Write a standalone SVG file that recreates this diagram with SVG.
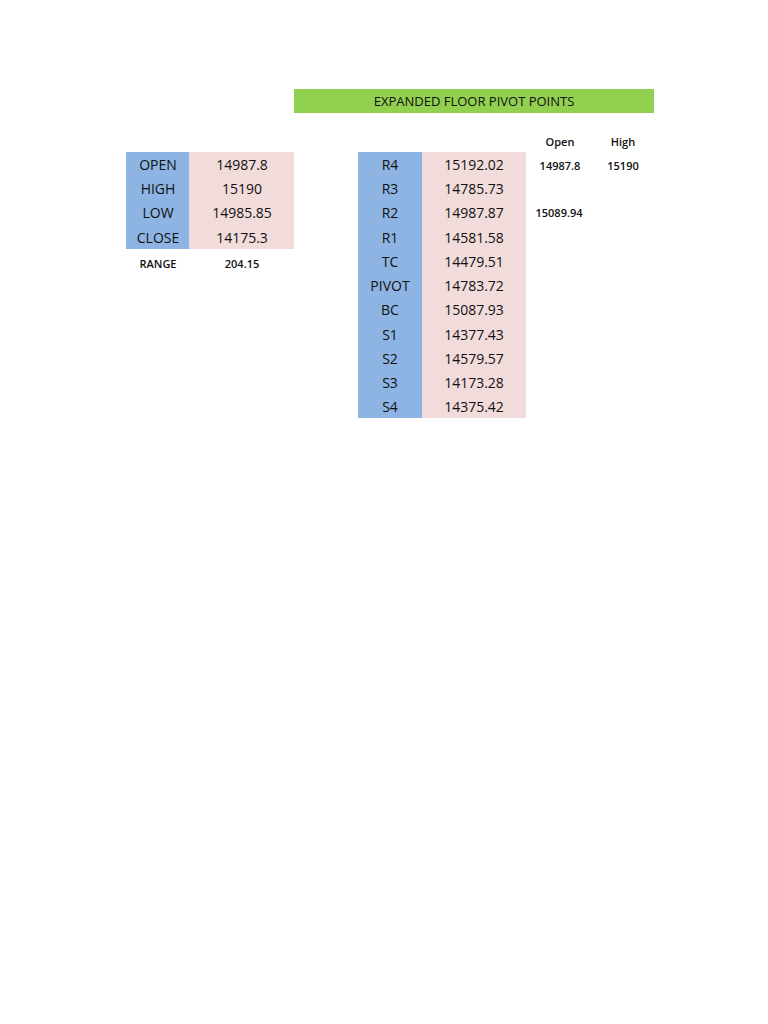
<svg xmlns="http://www.w3.org/2000/svg" width="768" height="1024" viewBox="0 0 768 1024">
<style>
.b{fill:#8db4e2}.p{fill:#f2dcdb}
text{font-family:"Open Sans","Liberation Sans",sans-serif;fill:#111;text-anchor:middle}
.l{font-size:14px}.s{font-size:11px;font-weight:600}
</style>
<rect width="768" height="1024" fill="#fff"/>
<g id="title"><rect x="294" y="89" width="360" height="24" fill="#92d050"/><text x="474" y="106" style="font-size:13px">EXPANDED FLOOR PIVOT POINTS</text></g>
<g id="left">
<rect class="b" x="126" y="152" width="63" height="97"/><rect class="p" x="189" y="152" width="105" height="97"/>
<g class="l">
<text x="158" y="170">OPEN</text><text x="242" y="170">14987.8</text>
<text x="158" y="194">HIGH</text><text x="242" y="194">15190</text>
<text x="158" y="218">LOW</text><text x="242" y="218">14985.85</text>
<text x="158" y="243">CLOSE</text><text x="242" y="243">14175.3</text>
</g>
<text class="s" x="158" y="268">RANGE</text><text class="s" x="242" y="268">204.15</text>
</g>
<g id="right">
<rect class="b" x="358" y="152" width="64" height="266"/><rect class="p" x="422" y="152" width="104" height="266"/>
<g class="l">
<text x="390" y="170">R4</text><text x="474" y="170">15192.02</text>
<text x="390" y="194">R3</text><text x="474" y="194">14785.73</text>
<text x="390" y="218">R2</text><text x="474" y="218">14987.87</text>
<text x="390" y="243">R1</text><text x="474" y="243">14581.58</text>
<text x="390" y="267">TC</text><text x="474" y="267">14479.51</text>
<text x="390" y="291">PIVOT</text><text x="474" y="291">14783.72</text>
<text x="390" y="315">BC</text><text x="474" y="315">15087.93</text>
<text x="390" y="340">S1</text><text x="474" y="340">14377.43</text>
<text x="390" y="364">S2</text><text x="474" y="364">14579.57</text>
<text x="390" y="388">S3</text><text x="474" y="388">14173.28</text>
<text x="390" y="412">S4</text><text x="474" y="412">14375.42</text>
</g>
</g>
<g id="extra" class="s">
<text class="s" x="560" y="146">Open</text><text class="s" x="623" y="146">High</text>
<text class="s" x="560" y="170">14987.8</text><text class="s" x="623" y="170">15190</text>
<text class="s" x="559" y="217">15089.94</text>
</g>
</svg>
